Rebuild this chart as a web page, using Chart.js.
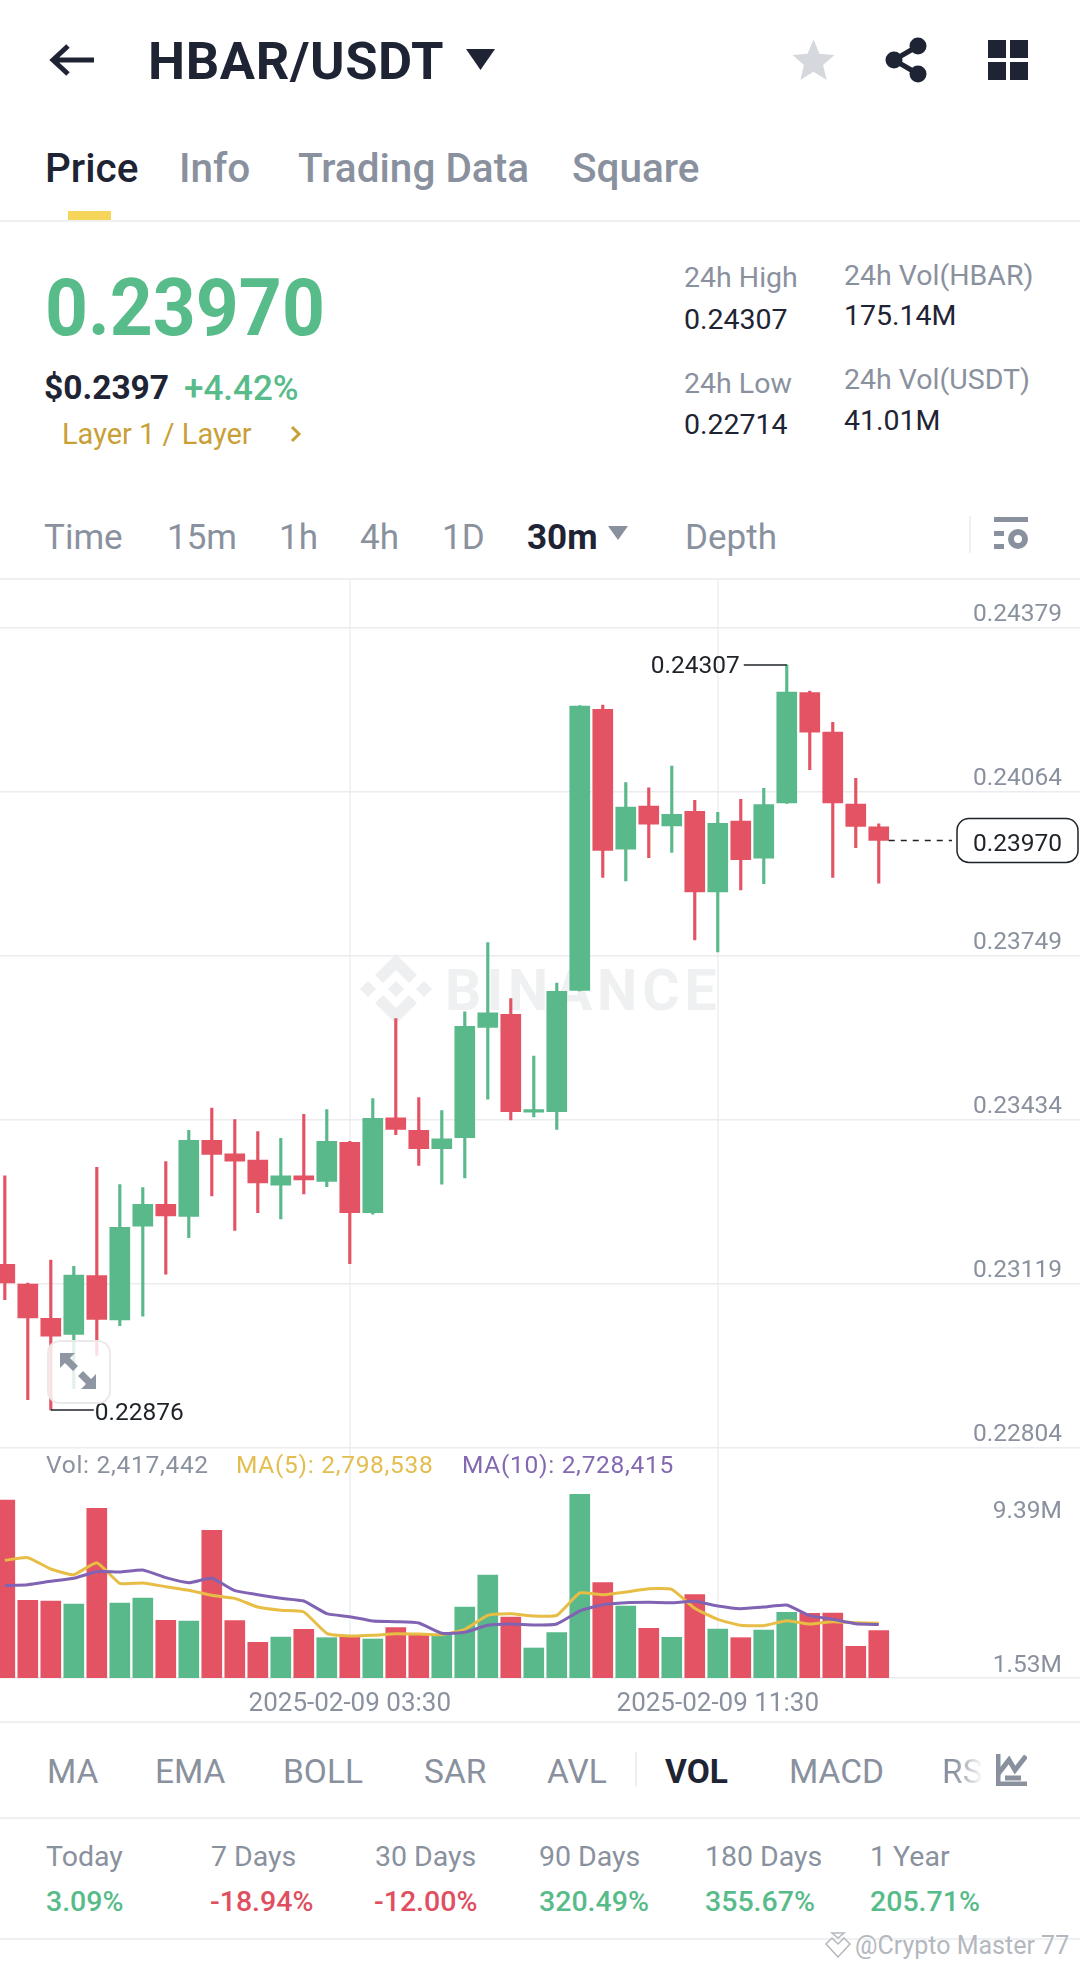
<!DOCTYPE html>
<html>
<head>
<meta charset="utf-8">
<title>HBAR/USDT</title>
<script src="https://cdn.jsdelivr.net/npm/chart.js@4/dist/chart.umd.min.js"></script>
<style>
  html, body { margin:0; padding:0; background:#fff; }
  body { position:relative; width:1080px; height:1966px; overflow:hidden; font-family:Roboto, sans-serif; color:#8a919e; }
  canvas { position:absolute; left:0; display:block; }
  .t { position:absolute; white-space:nowrap; transform:translateY(-50%); line-height:1; }
  .rule { position:absolute; left:0; width:1080px; height:2px; background:#eff0f2; }
  .dark { color:#1e2433; }
  .up { color:#58bb8a; }
  .down { color:#e04f60; }
  .tab { font-size:40.5px; font-weight:500; }
  .small { font-size:28.5px; }
  .row { font-size:35px; }
  .ind { font-size:33.5px; }
  .leg { font-size:24.5px; letter-spacing:.7px; }
  svg { position:absolute; }
</style>
</head>
<body>

<!-- header -->
<svg style="left:48px;top:42px" width="48" height="36" viewBox="0 0 48 36"><path d="M46 18H6M20 4L5 18l15 14" fill="none" stroke="#1e2433" stroke-width="5"/></svg>
<span class="t dark" style="left:148px;top:61px;font-size:52.5px;font-weight:700;letter-spacing:.6px">HBAR/USDT</span>
<svg style="left:466px;top:49px" width="29" height="21"><path d="M0 0H29L14.5 21z" fill="#1e2433"/></svg>
<svg style="left:791px;top:37px" width="45" height="46" viewBox="0 0 24 24"><path d="M12 1l3.2 7.6 8 .7-6.100 5.300 1.900 8L12 18.300 5 22.600l1.900-8L.8 9.300l8-.7z" fill="#d5d9de"/></svg>
<svg style="left:884px;top:37px" width="44" height="46" viewBox="0 0 44 46"><path d="M34 9L10 23l24 14" fill="none" stroke="#1e2433" stroke-width="5"/><circle cx="34" cy="9" r="8.500" fill="#1e2433"/><circle cx="10" cy="23" r="8.500" fill="#1e2433"/><circle cx="34" cy="37" r="8.500" fill="#1e2433"/></svg>
<svg style="left:988px;top:40px" width="40" height="40"><path d="M0 0h18v18H0zM22 0h18v18H22zM0 22h18v18H0zM22 22h18v18H22z" fill="#1e2433"/></svg>

<span class="t tab dark" style="left:45px;top:168px">Price</span>
<span class="t tab" style="left:179px;top:168px">Info</span>
<span class="t tab" style="left:298px;top:168px">Trading Data</span>
<span class="t tab" style="left:572px;top:168px">Square</span>
<div style="position:absolute;left:68px;top:211px;width:43px;height:9px;background:#f6d65a"></div>
<div class="rule" style="top:220px"></div>

<span class="t up" style="left:45px;top:308px;font-size:75px;font-weight:700;transform:translateY(-50%) scaleY(1.07)">0.23970</span>
<span class="t dark" style="left:44px;top:388px;font-size:33.5px;font-weight:700">$0.2397</span>
<span class="t up" style="left:184px;top:388px;font-size:35px;font-weight:500">+4.42%</span>
<span class="t" style="left:62px;top:434px;font-size:29px;color:#c99f37">Layer 1 / Layer</span>
<svg style="left:289px;top:424px" width="14" height="20"><path d="M3 3l7 7-7 7" fill="none" stroke="#c99f37" stroke-width="3"/></svg>

<span class="t small" style="left:684px;top:278px">24h High</span>
<span class="t small dark" style="left:684px;top:320px">0.24307</span>
<span class="t small" style="left:684px;top:384px">24h Low</span>
<span class="t small dark" style="left:684px;top:425px">0.22714</span>
<span class="t small" style="left:844px;top:276px">24h Vol(HBAR)</span>
<span class="t small dark" style="left:844px;top:316px">175.14M</span>
<span class="t small" style="left:844px;top:380px">24h Vol(USDT)</span>
<span class="t small dark" style="left:844px;top:421px">41.01M</span>

<span class="t row" style="left:44px;top:537px">Time</span>
<span class="t row" style="left:167px;top:537px">15m</span>
<span class="t row" style="left:279px;top:537px">1h</span>
<span class="t row" style="left:360px;top:537px">4h</span>
<span class="t row" style="left:442px;top:537px">1D</span>
<span class="t row dark" style="left:527px;top:537px;font-weight:700">30m</span>
<svg style="left:608px;top:526px" width="20" height="14"><path d="M0 0H20L10 14z" fill="#8a919e"/></svg>
<span class="t row" style="left:685px;top:537px">Depth</span>
<div style="position:absolute;left:969px;top:516px;width:2px;height:37px;background:#eff0f2"></div>
<svg style="left:993px;top:516px" width="36" height="36" viewBox="0 0 36 36"><path d="M1 1h34v5H1zM1 15h10v5H1zM1 28h10v5H1z" fill="#8a919e"/><circle cx="25" cy="23" r="7" fill="none" stroke="#8a919e" stroke-width="6"/></svg>
<div class="rule" style="top:578px"></div>

<!-- watermark behind the candles -->
<svg style="left:360px;top:954px" width="72" height="70" viewBox="0 0 72 70"><g fill="#eeeff0"><path d="M36 0L57 21 49 29 36 16 23 29 15 21z"/><path d="M36 70L57 49 49 41 36 54 23 41 15 49z"/><path d="M8 27l8 8-8 8-8-8zM64 27l8 8-8 8-8-8zM36 27l8 8-8 8-8-8z"/></g></svg>
<span class="t" style="left:445px;top:990px;font-size:57px;font-weight:700;color:#eff0f1;letter-spacing:5px">BINANCE</span>

<canvas id="priceChart" width="1080" height="872" style="top:578px"></canvas>
<canvas id="volChart" width="1080" height="272" style="top:1448px"></canvas>

<!-- expand button sits on top of the candles -->
<div style="position:absolute;left:47px;top:1340px;width:60px;height:60px;border:2px solid rgba(230,225,228,.75);border-radius:13px;background:rgba(255,255,255,.82)"></div>
<svg style="left:60px;top:1353px" width="36" height="36" viewBox="0 0 36 36"><g fill="#8f96a3"><path d="M0 0h15L10 5l8 8-5 5-8-8-5 5zM36 36H21l5-5-8-8 5-5 8 8 5-5z"/></g></svg>

<span class="t leg" style="left:46px;top:1465px">Vol: 2,417,442</span>
<span class="t leg" style="left:236px;top:1465px;color:#e3bd4d">MA(5): 2,798,538</span>
<span class="t leg" style="left:462px;top:1465px;color:#8468b2">MA(10): 2,728,415</span>

<div class="rule" style="top:1721px"></div>
<span class="t ind" style="left:47px;top:1772px">MA</span>
<span class="t ind" style="left:155px;top:1772px">EMA</span>
<span class="t ind" style="left:283px;top:1772px">BOLL</span>
<span class="t ind" style="left:424px;top:1772px">SAR</span>
<span class="t ind" style="left:547px;top:1772px">AVL</span>
<div style="position:absolute;left:635px;top:1752px;width:2px;height:35px;background:#eff0f2"></div>
<span class="t ind dark" style="left:665px;top:1772px;font-weight:700">VOL</span>
<span class="t ind" style="left:789px;top:1772px">MACD</span>
<span class="t ind" style="left:942px;top:1772px;background:linear-gradient(90deg,#8a919e 30%,#fff);-webkit-background-clip:text;color:transparent">RS</span>
<svg style="left:996px;top:1754px" width="31" height="32" viewBox="0 0 31 32"><path d="M2 0v30h29" fill="none" stroke="#8a919e" stroke-width="5"/><path d="M2 20L13 6l6 10L30 2M9 24h16" fill="none" stroke="#8a919e" stroke-width="5"/></svg>
<div class="rule" style="top:1817px"></div>

<span class="t small" style="left:46px;top:1857px">Today</span>
<span class="t small" style="left:211px;top:1857px">7 Days</span>
<span class="t small" style="left:375px;top:1857px">30 Days</span>
<span class="t small" style="left:539px;top:1857px">90 Days</span>
<span class="t small" style="left:705px;top:1857px">180 Days</span>
<span class="t small" style="left:870px;top:1857px">1 Year</span>
<span class="t small up" style="left:46px;top:1902px;font-weight:500">3.09%</span>
<span class="t small down" style="left:210px;top:1902px;font-weight:500">-18.94%</span>
<span class="t small down" style="left:374px;top:1902px;font-weight:500">-12.00%</span>
<span class="t small up" style="left:539px;top:1902px;font-weight:500">320.49%</span>
<span class="t small up" style="left:705px;top:1902px;font-weight:500">355.67%</span>
<span class="t small up" style="left:870px;top:1902px;font-weight:500">205.71%</span>
<div class="rule" style="top:1938px"></div>
<span class="t" style="left:855px;top:1945px;font-size:25px;color:#b4b8be;text-shadow:0 0 2px #fff">@Crypto Master 77</span>
<svg style="left:824px;top:1932px" width="28" height="26" viewBox="0 0 28 26"><path d="M14 25L2 12 8 6l6 6 6-6 6 6zM8 1h12l-6 5z" fill="none" stroke="#b4b8be" stroke-width="1.500"/></svg>

<script>
const timeLabels = ['2025-02-08 20:00','2025-02-08 20:30','2025-02-08 21:00','2025-02-08 21:30','2025-02-08 22:00','2025-02-08 22:30','2025-02-08 23:00','2025-02-08 23:30','2025-02-09 00:00','2025-02-09 00:30','2025-02-09 01:00','2025-02-09 01:30','2025-02-09 02:00','2025-02-09 02:30','2025-02-09 03:00','2025-02-09 03:30','2025-02-09 04:00','2025-02-09 04:30','2025-02-09 05:00','2025-02-09 05:30','2025-02-09 06:00','2025-02-09 06:30','2025-02-09 07:00','2025-02-09 07:30','2025-02-09 08:00','2025-02-09 08:30','2025-02-09 09:00','2025-02-09 09:30','2025-02-09 10:00','2025-02-09 10:30','2025-02-09 11:00','2025-02-09 11:30','2025-02-09 12:00','2025-02-09 12:30','2025-02-09 13:00','2025-02-09 13:30','2025-02-09 14:00','2025-02-09 14:30','2025-02-09 15:00'];

const opens  = [.23156,.23118,.23052,.23021,.23134,.23049,.23229,.23271,.23248,.23394,.23368,.23356,.23308,.23326,.23315,.23390,.23255,.23437,.23413,.23378,.23399,.23611,.23636,.23448,.23449,.23682,.24222,.23953,.24036,.23998,.24026,.23871,.24007,.23936,.24042,.24254,.24178,.24040,.23996];
const closes = [.23120,.23053,.23018,.23135,.23050,.23227,.23271,.23249,.23394,.23367,.23354,.23312,.23326,.23318,.23392,.23255,.23436,.23415,.23378,.23397,.23613,.23639,.23449,.23453,.23680,.24228,.23951,.24034,.24001,.24020,.23871,.24003,.23933,.24039,.24255,.24178,.24042,.23997,.23970];
const highs  = [.23326,.23120,.23164,.23152,.23342,.23309,.23303,.23353,.23413,.23456,.23434,.23411,.23398,.23444,.23453,.23392,.23474,.23628,.23476,.23451,.23641,.23774,.23666,.23556,.23696,.24229,.24230,.24081,.24071,.24113,.24047,.24024,.24049,.24070,.24307,.24257,.24197,.24089,.24002];
const lows   = [.23088,.22896,.22876,.22917,.22981,.23038,.23056,.23137,.23207,.23287,.23221,.23255,.23243,.23291,.23305,.23157,.23252,.23405,.23346,.23310,.23322,.23473,.23433,.23439,.23415,.23681,.23899,.23892,.23937,.23947,.23779,.23756,.23875,.23887,.24041,.24106,.23899,.23956,.23888];

const volumes = [9096000,3969000,3935000,3781000,8670000,3833000,4088000,2947000,2913000,7546000,2930000,1823000,2095000,2487000,2061000,2112000,1993000,2572000,2214000,2197000,3628000,5263000,3117000,1533000,2316000,9390000,4871000,3679000,2538000,2078000,4258000,2504000,2061000,2453000,3356000,3305000,3322000,1618000,2417442];
const ma5  = [6013000,6149000,5570000,5280000,5893000,4838000,4855000,4667000,4480000,4224000,4071000,3628000,3458000,3373000,2283000,2146000,2180000,2265000,2248000,2214000,2487000,3202000,3287000,3168000,3202000,4344000,4258000,4395000,4565000,4531000,3560000,2998000,2691000,2674000,2930000,2759000,2879000,2827000,2798538];
const ma10 = [4718000,4769000,4940000,5093000,5433000,5417000,5519000,5127000,4871000,5093000,4463000,4258000,4071000,3935000,3287000,3134000,2913000,2879000,2811000,2283000,2334000,2691000,2759000,2708000,2759000,3424000,3747000,3849000,3867000,3849000,3918000,3679000,3543000,3628000,3730000,3185000,2998000,2776000,2728415];

const priceTicks = [.24379,.24064,.23749,.23434,.23119,.22804];
const volTicks   = [9390000,1530000];
const timeTicks  = [15,31];
const highIndex = 34, lowIndex = 2, lastIndex = 38;

const GREEN = '#5ab98a', RED = '#e35363', GRID = '#ebecef', VGRID = '#f0f1f3', TICK = '#8a919e', INK = '#1e2329';
const FONT = {family:'Roboto', size:24.5};

const candleColors = closes.map((c, i) => c >= opens[i] ? GREEN : RED);

// x axis runs in candle slots, so the candles stay 23px apart and leave room on the right
const xRange = {min:-0.209, max:46.75, offset:false};

// the tick labels sit inside the plot, so no room is kept for them around it
const noPadding = s => { s.paddingTop = s.paddingBottom = s.paddingLeft = s.paddingRight = 0; };
const noWidth = s => { noPadding(s); s.width = 0; };

const priceMarks = {
  id:'priceMarks',
  afterDatasetsDraw(chart){
    const {ctx, scales:{x, y}} = chart;
    ctx.save();
    ctx.font = '24.5px Roboto';
    ctx.fillStyle = INK;
    ctx.strokeStyle = INK;
    ctx.lineWidth = 1.5;
    ctx.textBaseline = 'middle';

    // highest
    const hx = x.getPixelForValue(highIndex), hy = y.getPixelForValue(highs[highIndex]);
    ctx.beginPath(); ctx.moveTo(hx, hy); ctx.lineTo(hx - 43, hy); ctx.stroke();
    ctx.textAlign = 'right';
    ctx.fillText(highs[highIndex].toFixed(5), hx - 47, hy + 2);

    // lowest
    const lx = x.getPixelForValue(lowIndex), ly = y.getPixelForValue(lows[lowIndex]);
    ctx.beginPath(); ctx.moveTo(lx, ly); ctx.lineTo(lx + 43, ly); ctx.stroke();
    ctx.textAlign = 'left';
    ctx.fillText(lows[lowIndex].toFixed(5), lx + 44, ly + 4);

    // last price
    const last = closes[lastIndex], px = x.getPixelForValue(lastIndex) + 10, py = y.getPixelForValue(last);
    ctx.setLineDash([6, 6]);
    ctx.beginPath(); ctx.moveTo(px, py); ctx.lineTo(952, py); ctx.stroke();
    ctx.setLineDash([]);
    ctx.fillStyle = '#fff';
    ctx.beginPath(); ctx.roundRect(957, py - 22, 121, 44, 12); ctx.fill(); ctx.stroke();
    ctx.fillStyle = INK;
    ctx.textAlign = 'center';
    ctx.fillText(last.toFixed(5), 1017.5, py + 4);
    ctx.restore();
  }
};

new Chart(document.getElementById('priceChart'), {
  type:'bar',
  data:{ datasets:[
    { data: opens.map((o, i) => ({x:i, y:[o, closes[i]]})), backgroundColor:candleColors, barThickness:20, grouped:false },
    { data: lows.map((l, i) => ({x:i, y:[l, highs[i]]})), backgroundColor:candleColors, barThickness:2.5, grouped:false }
  ]},
  options:{
    responsive:false, animation:false, events:[],
    layout:{ padding:{bottom:2.5} },
    plugins:{ legend:{display:false}, tooltip:{enabled:false} },
    scales:{
      x:{ type:'linear', ...xRange, afterBuildTicks:s => { s.ticks = timeTicks.map(v => ({value:v})); },
          afterFit:noPadding,
          ticks:{display:false}, grid:{offset:false, color:VGRID, lineWidth:1.8, drawTicks:false}, border:{display:false} },
      y:{ position:'right', min:.22804, max:.24474, afterBuildTicks:s => { s.ticks = priceTicks.map(v => ({value:v})); },
          afterFit:noWidth,
          ticks:{mirror:true, padding:-18, labelOffset:-13, color:TICK, font:FONT, callback:v => v.toFixed(5)},
          grid:{color:GRID, lineWidth:1.5, drawTicks:false}, border:{display:false} }
    }
  },
  plugins:[priceMarks]
});

new Chart(document.getElementById('volChart'), {
  type:'bar',
  data:{ datasets:[
    { type:'line', data:ma10.map((v, i) => ({x:i, y:v})), borderColor:'#8063b3', borderWidth:3, pointRadius:0, tension:.15, order:0 },
    { type:'line', data:ma5.map((v, i) => ({x:i, y:v})), borderColor:'#e8bd45', borderWidth:3, pointRadius:0, tension:.15, order:1 },
    { data:volumes.map((v, i) => ({x:i, y:v})), backgroundColor:candleColors, barThickness:20, order:2 }
  ]},
  options:{
    responsive:false, animation:false, events:[],
    plugins:{ legend:{display:false}, tooltip:{enabled:false} },
    scales:{
      x:{ type:'linear', ...xRange, afterBuildTicks:s => { s.ticks = timeTicks.map(v => ({value:v})); },
          afterFit:s => { noPadding(s); s.height = 42; },
          ticks:{padding:11, color:TICK, font:{family:'Roboto', size:26}, maxRotation:0, autoSkip:false, callback:v => timeLabels[v]},
          grid:{offset:false, color:VGRID, lineWidth:1.8, drawTicks:false}, border:{display:true, color:GRID, width:1.5} },
      y:{ position:'right', min:0, max:11753000, afterBuildTicks:s => { s.ticks = volTicks.map(v => ({value:v})); },
          afterFit:noWidth,
          ticks:{mirror:true, padding:-18, labelOffset:18, color:TICK, font:FONT, callback:v => (v / 1e6).toFixed(2) + 'M'},
          grid:{display:false}, border:{display:false} }
    }
  }
});
</script>
</body>
</html>
